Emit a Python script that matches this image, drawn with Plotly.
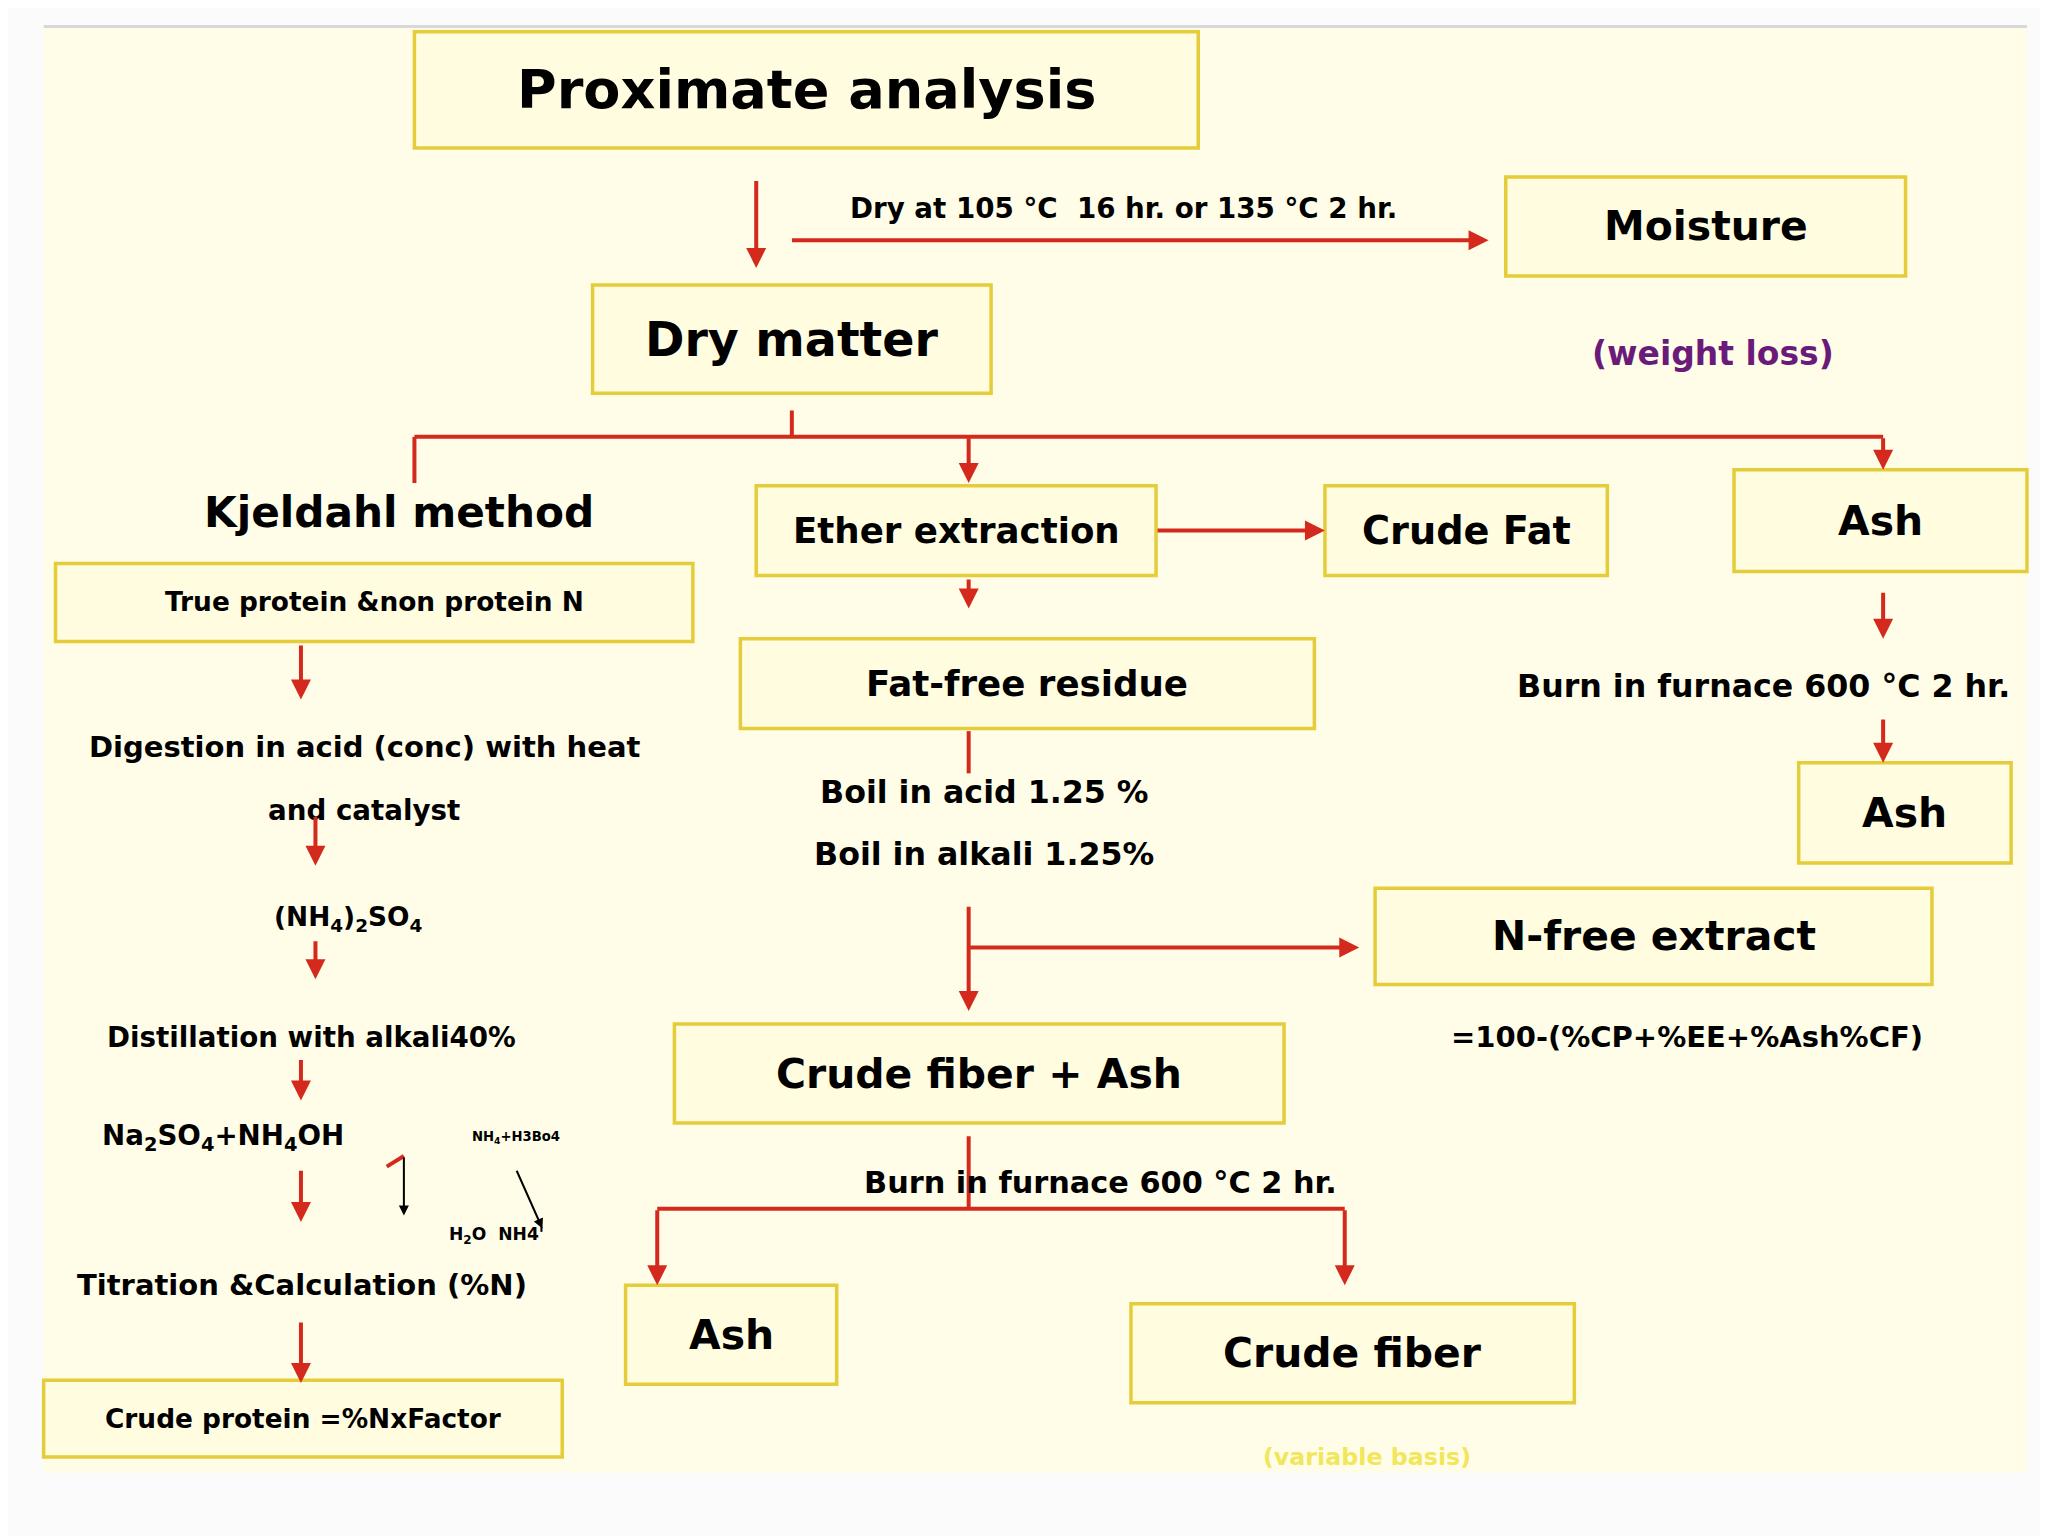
import plotly.graph_objects as go

S = 2048/1552.0
box_labels = ["Proximate analysis","Moisture","Dry matter","Ether extraction","Crude Fat","Ash",
              "True protein &non protein N","Fat-free residue","Ash","N-free extract","Crude fiber + Ash",
              "Ash","Crude fiber","Crude protein =%NxFactor"]
box_pos = [(308,18,902,106),(1135,128,1438,203),(443,210,745,292),(567,362,870,430),(998,362,1212,430),
           (1308,350,1530,427),(36,421,519,480),(555,478,990,546),(1357,572,1518,648),(1036,667,1458,740),
           (505,770,967,845),(468,968,628,1043),(851,982,1187,1057),(27,1040,420,1098)]
box_fs = [41,31,36,27,29,31,20,27,31,31,31,31,31,20]

texts = ["Kjeldahl method","(weight loss)","Dry at 105 °C  16 hr. or 135 °C 2 hr.",
         "Digestion in acid (conc) with heat","and catalyst","(NH<sub>4</sub>)<sub>2</sub>SO<sub>4</sub>",
         "Distillation with alkali40%","Na<sub>2</sub>SO<sub>4</sub>+NH<sub>4</sub>OH","NH<sub>4</sub>+H3Bo4",
         "H<sub>2</sub>O  NH4'","Titration &Calculation (%N)","Boil in acid 1.25 %","Boil in alkali 1.25%",
         "Burn in furnace 600 °C 2 hr.","=100-(%CP+%EE+%Ash%CF)","Burn in furnace 600 °C 2 hr.","(variable basis)"]
text_pos = [(296,382),(1292,262),(845,152),(270,560),(270,608),(258,690),(230,780),(163,856),(385,856),
            (370,930),(223,968),(740,594),(740,641),(1330,514),(1272,780),(828,890),(1030,1098)]
text_fs = [32,25,21,22,21,20,21,21,10,13,22,24,24,24,22,23,18]
text_col = ["black","#6a1b7a"] + ["black"]*14 + ["#f2e65a"]

arrows = [(567,130,567,197),(593,176,1122,176),(728,325,728,360),(1421,325,1421,350),(728,432,728,455),
          (870,396,998,396),(222,482,222,524),(233,612,233,650),(233,706,233,736),(222,796,222,828),
          (222,880,222,920),(222,995,222,1042),(728,680,728,760),(728,712,1024,712),(1421,442,1421,478),
          (1421,538,1421,572),(492,910,492,968),(1013,910,1013,968),(300,870,300,915),(385,880,405,925)]
lines = [(594,305,594,325),(308,325,1421,325),(308,325,308,360),(728,548,728,580),(728,855,728,910),
         (492,910,1013,910),(300,870,287,878)]

RED = "#d42a1e"
fig = go.Figure()
shapes = [dict(type="rect", x0=27, y0=15, x1=1530, y1=1110, fillcolor="#fffde8", line=dict(width=0), layer="below"),
          dict(type="line", x0=27, y0=14, x1=1530, y1=14, line=dict(color="#d8d8d8", width=3))]
ann = []
for (x0,y0,x1,y1),lab,fs in zip(box_pos, box_labels, box_fs):
    shapes.append(dict(type="rect", x0=x0, y0=y0, x1=x1, y1=y1, fillcolor="#fffce0",
                       line=dict(color="#e5cc3a", width=3.5)))
    ann.append(dict(x=(x0+x1)/2, y=(y0+y1)/2, text="<b>%s</b>"%lab, showarrow=False,
                    font=dict(size=fs*S, color="black", family="DejaVu Sans")))
for lab,(x,y),fs,c in zip(texts, text_pos, text_fs, text_col):
    ann.append(dict(x=x, y=y, text="<b>%s</b>"%lab, showarrow=False,
                    font=dict(size=fs*S, color=c, family="DejaVu Sans")))
for x0,y0,x1,y1 in lines:
    shapes.append(dict(type="line", x0=x0, y0=y0, x1=x1, y1=y1, line=dict(color=RED, width=4)))
for x0,y0,x1,y1 in arrows:
    col = "black" if (x0,y0) in [(300,870),(385,880)] else RED
    ann.append(dict(x=x1, y=y1, ax=x0, ay=y0, xref="x", yref="y", axref="x", ayref="y", text="",
                    showarrow=True, arrowhead=2, arrowsize=1, arrowwidth=4 if col==RED else 2, arrowcolor=col))
fig.update_layout(shapes=shapes, annotations=ann, width=2048, height=1536,
                  margin=dict(l=0,r=0,t=0,b=0), plot_bgcolor="#fbfbfb", paper_bgcolor="#fbfbfb",
                  xaxis=dict(range=[0,1552], visible=False, fixedrange=True),
                  yaxis=dict(range=[1164,0], visible=False, fixedrange=True), showlegend=False)
fig.write_html("out.html")
